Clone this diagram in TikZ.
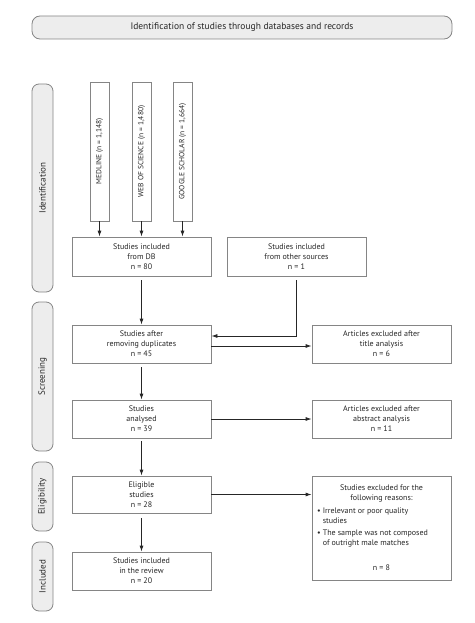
\documentclass[tikz,border=0pt]{standalone}
\usepackage{fontspec}
\setmainfont{PT Sans}
\usetikzlibrary{arrows.meta,calc}
\definecolor{bord}{HTML}{858585}
\definecolor{ink}{HTML}{262626}
\definecolor{lab}{HTML}{EDEDED}
\begin{document}
\begin{tikzpicture}[x=1pt,y=-1pt,
  every node/.style={font=\fontsize{8}{10}\selectfont, text=ink, inner sep=0pt},
  box/.style={draw=bord, line width=0.8pt, rectangle, minimum width=139pt, align=center},
  side/.style={draw=bord, fill=lab, rounded corners=7pt, line width=0.8pt, rotate=90, minimum height=21pt, font=\fontsize{9}{11}\selectfont},
  dbbox/.style={draw=bord, line width=0.8pt, rotate=90, minimum width=139pt, minimum height=19pt, font=\fontsize{7.5}{9}\selectfont},
  arr/.style={draw=ink, line width=0.8pt, -{Latex[length=6pt,width=4pt]}},
  ln/.style={draw=ink, line width=0.8pt}]
\useasboundingbox (0,0) rectangle (474,623);
% banner
\node[draw=bord, fill=lab, rounded corners=8pt, line width=0.8pt, minimum width=420pt, minimum height=23pt, font=\fontsize{9.5}{11}\selectfont] (banner) at (242,27.5) {Identification of studies through databases and records};
% side labels
\node[side, minimum width=208pt] (idlab) at (42.5,188) {Identification};
\node[side, minimum width=149pt] (scrlab) at (42.5,376.5) {Screening};
\node[side, minimum width=69pt] (elilab) at (42.5,496.5) {Eligibility};
\node[side, minimum width=69pt] (inclab) at (42.5,576.5) {Included};
% databases
\node[dbbox] (med) at (99.5,151.5) {MEDLINE (n = 1,148)};
\node[dbbox] (wos) at (141.5,151.5) {WEB OF SCIENCE (n = 1,480)};
\node[dbbox] (gs) at (182.5,151.5) {GOOGLE SCHOLAR (n = 1,664)};
% boxes
\node[box, minimum height=39pt] (db) at (141.5,256.5) {Studies included\\from DB\\n = 80};
\node[box, minimum height=39pt] (other) at (296.5,256.5) {Studies included\\from other sources\\n = 1};
\node[box, minimum height=38pt] (dup) at (141.5,344) {Studies after\\removing duplicates\\n = 45};
\node[box, minimum height=38pt] (title) at (381.5,344) {Articles excluded after\\title analysis\\n = 6};
\node[box, minimum height=38pt] (ana) at (141.5,419) {Studies\\analysed\\n = 39};
\node[box, minimum height=38pt] (abs) at (381.5,419) {Articles excluded after\\abstract analysis\\n = 11};
\node[box, minimum height=37pt] (eli) at (141.5,494.5) {Eligible\\studies\\n = 28};
\node[box, minimum height=104pt] (excl) at (381.5,528) {};
\node[box, minimum height=38pt] (inc) at (141.5,571) {Studies included\\in the review\\n = 20};
% excluded text
\node[align=center] (exhead) at (381.5,493) {Studies excluded for the\\following reasons:};
\node[anchor=north west, align=left] (exlist) at (317,506) {%
  \begin{tabular}{@{}l@{\hspace{2pt}}l@{}}
  \textbullet & Irrelevant or poor quality\\
  & studies\\[2pt]
  \textbullet & The sample was not composed\\
  & of outright male matches
  \end{tabular}};
\node (exn) at (381.5,568) {n = 8};
% arrows
\draw[arr] (med.west) -- (med.west |- db.north);
\draw[arr] (wos.west) -- (wos.west |- db.north);
\draw[arr] (gs.west) -- (gs.west |- db.north);
\draw[arr, shorten <=4pt] (db.south) -- (dup.north);
\coordinate (join) at ($(dup.east)+(0,-8)$);
\draw[ln, shorten <=4pt] (other.south) -- (other.south |- join);
\draw[arr] (other.south |- join) -- (join);
\draw[arr] ($(dup.east)+(0,2)$) -- ($(title.west)+(0,2)$);
\draw[arr, shorten <=4pt] (dup.south) -- (ana.north);
\draw[arr] (ana.east) -- (abs.west);
\draw[arr, shorten <=3pt] (ana.south) -- (eli.north);
\draw[arr] (eli.east) -- (eli.east -| excl.west);
\draw[arr, shorten <=5pt] (eli.south) -- (inc.north);
\end{tikzpicture}
\end{document}
